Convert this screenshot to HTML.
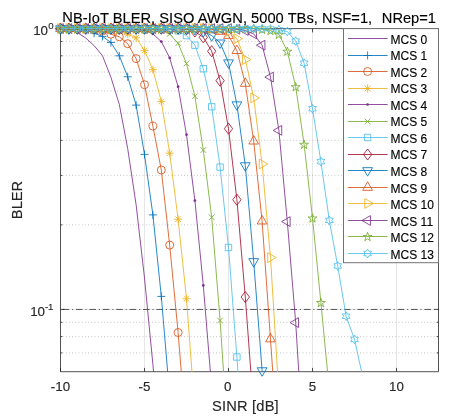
<!DOCTYPE html>
<html><head><meta charset="utf-8"><title>NB-IoT BLER</title>
<style>
html,body{margin:0;padding:0;background:#fff}
svg{display:block}
text{font-family:"Liberation Sans",sans-serif;fill:#262626;stroke:#262626;stroke-width:0.14px}
.t{font-size:13.33px}
.e{font-size:9.7px}
.l{font-size:14.67px}
.g{font-size:12px;fill:#000;stroke:#000}
.s{fill:none;stroke-width:0.85;stroke-linejoin:miter}
</style></head><body>
<svg width="449" height="417" viewBox="0 0 449 417">
<rect width="449" height="417" fill="#fff"/>
<path d="M144.5 28.6V371.7M228.5 28.6V371.7M312.5 28.6V371.7M396.5 28.6V371.7M60.5 309.4H438.5" stroke="#dfdfdf" stroke-width="0.8" fill="none"/>
<path d="M60.5 41.45H438.5M60.5 55.81H438.5M60.5 72.1H438.5M60.5 90.9H438.5M60.5 113.13H438.5M60.5 140.34H438.5M60.5 175.43H438.5M60.5 224.87H438.5M60.5 322.25H438.5M60.5 336.62H438.5M60.5 352.9H438.5" stroke="#b2b2b2" stroke-width="0.8" stroke-dasharray="0.9 2.3" stroke-dashoffset="1.2" fill="none"/>
<path d="M60.5 28.6H438.5V371.7H60.5ZM60.5 371.7v-3.8M60.5 28.6v3.8M144.5 371.7v-3.8M144.5 28.6v3.8M228.5 371.7v-3.8M228.5 28.6v3.8M312.5 371.7v-3.8M312.5 28.6v3.8M396.5 371.7v-3.8M396.5 28.6v3.8M60.5 28.6h3.8M438.5 28.6h-3.8M60.5 309.4h3.8M438.5 309.4h-3.8M60.5 41.45h1.9M438.5 41.45h-1.9M60.5 55.81h1.9M438.5 55.81h-1.9M60.5 72.1h1.9M438.5 72.1h-1.9M60.5 90.9h1.9M438.5 90.9h-1.9M60.5 113.13h1.9M438.5 113.13h-1.9M60.5 140.34h1.9M438.5 140.34h-1.9M60.5 175.43h1.9M438.5 175.43h-1.9M60.5 224.87h1.9M438.5 224.87h-1.9M60.5 322.25h1.9M438.5 322.25h-1.9M60.5 336.62h1.9M438.5 336.62h-1.9M60.5 352.9h1.9M438.5 352.9h-1.9" stroke="#262626" stroke-width="0.8" fill="none"/>
<defs><clipPath id="c"><rect x="60.0" y="28.1" width="379.0" height="343.9"/></clipPath></defs>
<path d="M60.5 309.45H438.5" stroke="#1c1c1c" stroke-width="0.72" stroke-dasharray="6.6 2.9 1.1 2.8" stroke-dashoffset="11.3" fill="none"/>
<path class="s" clip-path="url(#c)" d="M60.5 28.7L68.9 29.5L77.3 32.6L85.7 38L94.1 45.6L102.5 55.8L110.9 77.2L119.3 104.4L127.7 148.5L136.1 204.6L144.5 278L152.9 364.5L161.3 460" stroke="#7E2F8E"/>
<path class="s" clip-path="url(#c)" d="M60.5 28.6L68.9 28.6L77.3 29.2L85.7 30.3L94.1 33.2L102.5 36.4L110.9 42.5L119.3 55.8L127.7 76.8L136.1 105.1L144.5 154.4L152.9 214.9L161.3 296.4L169.7 396" stroke="#0072BD"/>
<path class="s" stroke="#0072BD" d="M56.5 28.6H64.5M60.5 24.6V32.6M64.9 28.6H72.9M68.9 24.6V32.6M73.3 29.2H81.3M77.3 25.2V33.2M81.7 30.3H89.7M85.7 26.3V34.3M90.1 33.2H98.1M94.1 29.2V37.2M98.5 36.4H106.5M102.5 32.4V40.4M106.9 42.5H114.9M110.9 38.5V46.5M115.3 55.8H123.3M119.3 51.8V59.8M123.7 76.8H131.7M127.7 72.8V80.8M132.1 105.1H140.1M136.1 101.1V109.1M140.5 154.4H148.5M144.5 150.4V158.4M148.9 214.9H156.9M152.9 210.9V218.9M157.3 296.4H165.3M161.3 292.4V300.4"/>
<path class="s" clip-path="url(#c)" d="M60.5 28.6L68.9 28.6L77.3 28.6L85.7 28.6L94.1 29.3L102.5 31L110.9 34.2L119.3 36.8L127.7 43.7L136.1 58.6L144.5 84.7L152.9 126.1L161.3 170L169.7 245.1L178.1 332.5L186.5 437" stroke="#D95319"/>
<g class="s" stroke="#D95319"><circle cx="60.5" cy="28.6" r="4"/><circle cx="68.9" cy="28.6" r="4"/><circle cx="77.3" cy="28.6" r="4"/><circle cx="85.7" cy="28.6" r="4"/><circle cx="94.1" cy="29.3" r="4"/><circle cx="102.5" cy="31" r="4"/><circle cx="110.9" cy="34.2" r="4"/><circle cx="119.3" cy="36.8" r="4"/><circle cx="127.7" cy="43.7" r="4"/><circle cx="136.1" cy="58.6" r="4"/><circle cx="144.5" cy="84.7" r="4"/><circle cx="152.9" cy="126.1" r="4"/><circle cx="161.3" cy="170" r="4"/><circle cx="169.7" cy="245.1" r="4"/><circle cx="178.1" cy="332.5" r="4"/></g>
<path class="s" clip-path="url(#c)" d="M60.5 28.6L68.9 28.6L77.3 28.6L85.7 28.6L94.1 28.6L102.5 28.6L110.9 29.3L119.3 31L127.7 34.2L136.1 37.8L144.5 50.6L152.9 69.6L161.3 101.5L169.7 153.2L178.1 219.2L186.5 298.8L194.9 411" stroke="#EDB120"/>
<path class="s" stroke="#EDB120" d="M56.5 28.6H64.5M60.5 24.6V32.6M57.67 25.77L63.33 31.43M57.67 31.43L63.33 25.77M64.9 28.6H72.9M68.9 24.6V32.6M66.07 25.77L71.73 31.43M66.07 31.43L71.73 25.77M73.3 28.6H81.3M77.3 24.6V32.6M74.47 25.77L80.13 31.43M74.47 31.43L80.13 25.77M81.7 28.6H89.7M85.7 24.6V32.6M82.87 25.77L88.53 31.43M82.87 31.43L88.53 25.77M90.1 28.6H98.1M94.1 24.6V32.6M91.27 25.77L96.93 31.43M91.27 31.43L96.93 25.77M98.5 28.6H106.5M102.5 24.6V32.6M99.67 25.77L105.33 31.43M99.67 31.43L105.33 25.77M106.9 29.3H114.9M110.9 25.3V33.3M108.07 26.47L113.73 32.13M108.07 32.13L113.73 26.47M115.3 31H123.3M119.3 27V35M116.47 28.17L122.13 33.83M116.47 33.83L122.13 28.17M123.7 34.2H131.7M127.7 30.2V38.2M124.87 31.37L130.53 37.03M124.87 37.03L130.53 31.37M132.1 37.8H140.1M136.1 33.8V41.8M133.27 34.97L138.93 40.63M133.27 40.63L138.93 34.97M140.5 50.6H148.5M144.5 46.6V54.6M141.67 47.77L147.33 53.43M141.67 53.43L147.33 47.77M148.9 69.6H156.9M152.9 65.6V73.6M150.07 66.77L155.73 72.43M150.07 72.43L155.73 66.77M157.3 101.5H165.3M161.3 97.5V105.5M158.47 98.67L164.13 104.33M158.47 104.33L164.13 98.67M165.7 153.2H173.7M169.7 149.2V157.2M166.87 150.37L172.53 156.03M166.87 156.03L172.53 150.37M174.1 219.2H182.1M178.1 215.2V223.2M175.27 216.37L180.93 222.03M175.27 222.03L180.93 216.37M182.5 298.8H190.5M186.5 294.8V302.8M183.67 295.97L189.33 301.63M183.67 301.63L189.33 295.97"/>
<path class="s" clip-path="url(#c)" d="M60.5 28.6L68.9 28.6L77.3 28.6L85.7 28.6L94.1 28.6L102.5 28.6L110.9 28.6L119.3 28.6L127.7 28.6L136.1 29.3L144.5 30.5L152.9 33.9L161.3 41.6L169.7 57.9L178.1 86.7L186.5 134.7L194.9 200.6L203.3 285.4L211.7 388" stroke="#7E2F8E"/>
<g fill="#7E2F8E"><circle cx="60.5" cy="28.6" r="1.35"/><circle cx="68.9" cy="28.6" r="1.35"/><circle cx="77.3" cy="28.6" r="1.35"/><circle cx="85.7" cy="28.6" r="1.35"/><circle cx="94.1" cy="28.6" r="1.35"/><circle cx="102.5" cy="28.6" r="1.35"/><circle cx="110.9" cy="28.6" r="1.35"/><circle cx="119.3" cy="28.6" r="1.35"/><circle cx="127.7" cy="28.6" r="1.35"/><circle cx="136.1" cy="29.3" r="1.35"/><circle cx="144.5" cy="30.5" r="1.35"/><circle cx="152.9" cy="33.9" r="1.35"/><circle cx="161.3" cy="41.6" r="1.35"/><circle cx="169.7" cy="57.9" r="1.35"/><circle cx="178.1" cy="86.7" r="1.35"/><circle cx="186.5" cy="134.7" r="1.35"/><circle cx="194.9" cy="200.6" r="1.35"/><circle cx="203.3" cy="285.4" r="1.35"/></g>
<path class="s" clip-path="url(#c)" d="M60.5 28.6L68.9 28.6L77.3 28.6L85.7 28.6L94.1 28.6L102.5 28.6L110.9 28.6L119.3 28.6L127.7 28.6L136.1 28.6L144.5 28.6L152.9 29.3L161.3 30.5L169.7 33.9L178.1 43.3L186.5 63.6L194.9 96.3L203.3 150L211.7 217.3L220.1 320.5L228.5 446" stroke="#77AC30"/>
<path class="s" stroke="#77AC30" d="M57.67 25.77L63.33 31.43M57.67 31.43L63.33 25.77M66.07 25.77L71.73 31.43M66.07 31.43L71.73 25.77M74.47 25.77L80.13 31.43M74.47 31.43L80.13 25.77M82.87 25.77L88.53 31.43M82.87 31.43L88.53 25.77M91.27 25.77L96.93 31.43M91.27 31.43L96.93 25.77M99.67 25.77L105.33 31.43M99.67 31.43L105.33 25.77M108.07 25.77L113.73 31.43M108.07 31.43L113.73 25.77M116.47 25.77L122.13 31.43M116.47 31.43L122.13 25.77M124.87 25.77L130.53 31.43M124.87 31.43L130.53 25.77M133.27 25.77L138.93 31.43M133.27 31.43L138.93 25.77M141.67 25.77L147.33 31.43M141.67 31.43L147.33 25.77M150.07 26.47L155.73 32.13M150.07 32.13L155.73 26.47M158.47 27.67L164.13 33.33M158.47 33.33L164.13 27.67M166.87 31.07L172.53 36.73M166.87 36.73L172.53 31.07M175.27 40.47L180.93 46.13M175.27 46.13L180.93 40.47M183.67 60.77L189.33 66.43M183.67 66.43L189.33 60.77M192.07 93.47L197.73 99.13M192.07 99.13L197.73 93.47M200.47 147.17L206.13 152.83M200.47 152.83L206.13 147.17M208.87 214.47L214.53 220.13M208.87 220.13L214.53 214.47M217.27 317.67L222.93 323.33M217.27 323.33L222.93 317.67"/>
<path class="s" clip-path="url(#c)" d="M60.5 28.6L68.9 28.6L77.3 28.6L85.7 28.6L94.1 28.6L102.5 28.6L110.9 28.6L119.3 28.6L127.7 28.6L136.1 28.6L144.5 28.6L152.9 28.6L161.3 28.6L169.7 29.3L178.1 30.8L186.5 35.6L194.9 45.2L203.3 68.7L211.7 106.8L220.1 167.1L228.5 247.5L236.9 357L245.3 475" stroke="#4DBEEE"/>
<path class="s" stroke="#4DBEEE" d="M57.3 25.4H63.7V31.8H57.3ZM65.7 25.4H72.1V31.8H65.7ZM74.1 25.4H80.5V31.8H74.1ZM82.5 25.4H88.9V31.8H82.5ZM90.9 25.4H97.3V31.8H90.9ZM99.3 25.4H105.7V31.8H99.3ZM107.7 25.4H114.1V31.8H107.7ZM116.1 25.4H122.5V31.8H116.1ZM124.5 25.4H130.9V31.8H124.5ZM132.9 25.4H139.3V31.8H132.9ZM141.3 25.4H147.7V31.8H141.3ZM149.7 25.4H156.1V31.8H149.7ZM158.1 25.4H164.5V31.8H158.1ZM166.5 26.1H172.9V32.5H166.5ZM174.9 27.6H181.3V34H174.9ZM183.3 32.4H189.7V38.8H183.3ZM191.7 42H198.1V48.4H191.7ZM200.1 65.5H206.5V71.9H200.1ZM208.5 103.6H214.9V110H208.5ZM216.9 163.9H223.3V170.3H216.9ZM225.3 244.3H231.7V250.7H225.3ZM233.7 353.8H240.1V360.2H233.7Z"/>
<path class="s" clip-path="url(#c)" d="M60.5 28.6L68.9 28.6L77.3 28.6L85.7 28.6L94.1 28.6L102.5 28.6L110.9 28.6L119.3 28.6L127.7 28.6L136.1 28.6L144.5 28.6L152.9 28.6L161.3 28.6L169.7 28.6L178.1 28.6L186.5 29.3L194.9 31.5L203.3 37.3L211.7 51.2L220.1 80.7L228.5 128.7L236.9 199.7L245.3 297L253.7 410" stroke="#A2142F"/>
<path class="s" stroke="#A2142F" d="M60.5 23.05L64.65 28.6L60.5 34.15L56.35 28.6ZM68.9 23.05L73.05 28.6L68.9 34.15L64.75 28.6ZM77.3 23.05L81.45 28.6L77.3 34.15L73.15 28.6ZM85.7 23.05L89.85 28.6L85.7 34.15L81.55 28.6ZM94.1 23.05L98.25 28.6L94.1 34.15L89.95 28.6ZM102.5 23.05L106.65 28.6L102.5 34.15L98.35 28.6ZM110.9 23.05L115.05 28.6L110.9 34.15L106.75 28.6ZM119.3 23.05L123.45 28.6L119.3 34.15L115.15 28.6ZM127.7 23.05L131.85 28.6L127.7 34.15L123.55 28.6ZM136.1 23.05L140.25 28.6L136.1 34.15L131.95 28.6ZM144.5 23.05L148.65 28.6L144.5 34.15L140.35 28.6ZM152.9 23.05L157.05 28.6L152.9 34.15L148.75 28.6ZM161.3 23.05L165.45 28.6L161.3 34.15L157.15 28.6ZM169.7 23.05L173.85 28.6L169.7 34.15L165.55 28.6ZM178.1 23.05L182.25 28.6L178.1 34.15L173.95 28.6ZM186.5 23.75L190.65 29.3L186.5 34.85L182.35 29.3ZM194.9 25.95L199.05 31.5L194.9 37.05L190.75 31.5ZM203.3 31.75L207.45 37.3L203.3 42.85L199.15 37.3ZM211.7 45.65L215.85 51.2L211.7 56.75L207.55 51.2ZM220.1 75.15L224.25 80.7L220.1 86.25L215.95 80.7ZM228.5 123.15L232.65 128.7L228.5 134.25L224.35 128.7ZM236.9 194.15L241.05 199.7L236.9 205.25L232.75 199.7ZM245.3 291.45L249.45 297L245.3 302.55L241.15 297Z"/>
<path class="s" clip-path="url(#c)" d="M60.5 28.6L68.9 28.6L77.3 28.6L85.7 28.6L94.1 28.6L102.5 28.6L110.9 28.6L119.3 28.6L127.7 28.6L136.1 28.6L144.5 28.6L152.9 28.6L161.3 28.6L169.7 28.6L178.1 28.6L186.5 28.6L194.9 29.3L203.3 31.5L211.7 35.6L220.1 42.8L228.5 62.7L236.9 104.7L245.3 165.6L253.7 261.5L262.1 370.6L270.5 490" stroke="#0072BD"/>
<path class="s" stroke="#0072BD" d="M55.6 25.77H65.4L60.5 34.26ZM64 25.77H73.8L68.9 34.26ZM72.4 25.77H82.2L77.3 34.26ZM80.8 25.77H90.6L85.7 34.26ZM89.2 25.77H99L94.1 34.26ZM97.6 25.77H107.4L102.5 34.26ZM106 25.77H115.8L110.9 34.26ZM114.4 25.77H124.2L119.3 34.26ZM122.8 25.77H132.6L127.7 34.26ZM131.2 25.77H141L136.1 34.26ZM139.6 25.77H149.4L144.5 34.26ZM148 25.77H157.8L152.9 34.26ZM156.4 25.77H166.2L161.3 34.26ZM164.8 25.77H174.6L169.7 34.26ZM173.2 25.77H183L178.1 34.26ZM181.6 25.77H191.4L186.5 34.26ZM190 26.47H199.8L194.9 34.96ZM198.4 28.67H208.2L203.3 37.16ZM206.8 32.77H216.6L211.7 41.26ZM215.2 39.97H225L220.1 48.46ZM223.6 59.87H233.4L228.5 68.36ZM232 101.87H241.8L236.9 110.36ZM240.4 162.77H250.2L245.3 171.26ZM248.8 258.67H258.6L253.7 267.16ZM257.2 367.77H267L262.1 376.26Z"/>
<path class="s" clip-path="url(#c)" d="M60.5 28.6L68.9 28.6L77.3 28.6L85.7 28.6L94.1 28.6L102.5 28.6L110.9 28.6L119.3 28.6L127.7 28.6L136.1 28.6L144.5 28.6L152.9 28.6L161.3 28.6L169.7 28.6L178.1 28.6L186.5 28.6L194.9 28.6L203.3 28.6L211.7 29.3L220.1 31.5L228.5 35.6L236.9 50.7L245.3 83.5L253.7 141.2L262.1 221.1L270.5 339L278.9 462" stroke="#D95319"/>
<path class="s" stroke="#D95319" d="M55.6 31.43H65.4L60.5 22.94ZM64 31.43H73.8L68.9 22.94ZM72.4 31.43H82.2L77.3 22.94ZM80.8 31.43H90.6L85.7 22.94ZM89.2 31.43H99L94.1 22.94ZM97.6 31.43H107.4L102.5 22.94ZM106 31.43H115.8L110.9 22.94ZM114.4 31.43H124.2L119.3 22.94ZM122.8 31.43H132.6L127.7 22.94ZM131.2 31.43H141L136.1 22.94ZM139.6 31.43H149.4L144.5 22.94ZM148 31.43H157.8L152.9 22.94ZM156.4 31.43H166.2L161.3 22.94ZM164.8 31.43H174.6L169.7 22.94ZM173.2 31.43H183L178.1 22.94ZM181.6 31.43H191.4L186.5 22.94ZM190 31.43H199.8L194.9 22.94ZM198.4 31.43H208.2L203.3 22.94ZM206.8 32.13H216.6L211.7 23.64ZM215.2 34.33H225L220.1 25.84ZM223.6 38.43H233.4L228.5 29.94ZM232 53.53H241.8L236.9 45.04ZM240.4 86.33H250.2L245.3 77.84ZM248.8 144.03H258.6L253.7 135.54ZM257.2 223.93H267L262.1 215.44ZM265.6 341.83H275.4L270.5 333.34Z"/>
<path class="s" clip-path="url(#c)" d="M60.5 28.6L68.9 28.6L77.3 28.6L85.7 28.6L94.1 28.6L102.5 28.6L110.9 28.6L119.3 28.6L127.7 28.6L136.1 28.6L144.5 28.6L152.9 28.6L161.3 28.6L169.7 28.6L178.1 28.6L186.5 28.6L194.9 28.6L203.3 28.6L211.7 28.6L220.1 29.3L228.5 31.5L236.9 38.7L245.3 59.6L253.7 97.9L262.1 164L270.5 257.6L278.9 394" stroke="#EDB120"/>
<path class="s" stroke="#EDB120" d="M57.67 23.7V33.5L66.16 28.6ZM66.07 23.7V33.5L74.56 28.6ZM74.47 23.7V33.5L82.96 28.6ZM82.87 23.7V33.5L91.36 28.6ZM91.27 23.7V33.5L99.76 28.6ZM99.67 23.7V33.5L108.16 28.6ZM108.07 23.7V33.5L116.56 28.6ZM116.47 23.7V33.5L124.96 28.6ZM124.87 23.7V33.5L133.36 28.6ZM133.27 23.7V33.5L141.76 28.6ZM141.67 23.7V33.5L150.16 28.6ZM150.07 23.7V33.5L158.56 28.6ZM158.47 23.7V33.5L166.96 28.6ZM166.87 23.7V33.5L175.36 28.6ZM175.27 23.7V33.5L183.76 28.6ZM183.67 23.7V33.5L192.16 28.6ZM192.07 23.7V33.5L200.56 28.6ZM200.47 23.7V33.5L208.96 28.6ZM208.87 23.7V33.5L217.36 28.6ZM217.27 24.4V34.2L225.76 29.3ZM225.67 26.6V36.4L234.16 31.5ZM234.07 33.8V43.6L242.56 38.7ZM242.47 54.7V64.5L250.96 59.6ZM250.87 93V102.8L259.36 97.9ZM259.27 159.1V168.9L267.76 164ZM267.67 252.7V262.5L276.16 257.6Z"/>
<path class="s" clip-path="url(#c)" d="M60.5 28.6L68.9 28.6L77.3 28.6L85.7 28.6L94.1 28.6L102.5 28.6L110.9 28.6L119.3 28.6L127.7 28.6L136.1 28.6L144.5 28.6L152.9 28.6L161.3 28.6L169.7 28.6L178.1 28.6L186.5 28.6L194.9 28.6L203.3 28.6L211.7 28.6L220.1 28.6L228.5 28.6L236.9 29.3L245.3 30.5L253.7 33.9L262.1 45.2L270.5 77.1L278.9 130.4L287.3 221.6L295.7 322.6L304.1 457" stroke="#7E2F8E"/>
<path class="s" stroke="#7E2F8E" d="M63.33 23.7V33.5L54.84 28.6ZM71.73 23.7V33.5L63.24 28.6ZM80.13 23.7V33.5L71.64 28.6ZM88.53 23.7V33.5L80.04 28.6ZM96.93 23.7V33.5L88.44 28.6ZM105.33 23.7V33.5L96.84 28.6ZM113.73 23.7V33.5L105.24 28.6ZM122.13 23.7V33.5L113.64 28.6ZM130.53 23.7V33.5L122.04 28.6ZM138.93 23.7V33.5L130.44 28.6ZM147.33 23.7V33.5L138.84 28.6ZM155.73 23.7V33.5L147.24 28.6ZM164.13 23.7V33.5L155.64 28.6ZM172.53 23.7V33.5L164.04 28.6ZM180.93 23.7V33.5L172.44 28.6ZM189.33 23.7V33.5L180.84 28.6ZM197.73 23.7V33.5L189.24 28.6ZM206.13 23.7V33.5L197.64 28.6ZM214.53 23.7V33.5L206.04 28.6ZM222.93 23.7V33.5L214.44 28.6ZM231.33 23.7V33.5L222.84 28.6ZM239.73 24.4V34.2L231.24 29.3ZM248.13 25.6V35.4L239.64 30.5ZM256.53 29V38.8L248.04 33.9ZM264.93 40.3V50.1L256.44 45.2ZM273.33 72.2V82L264.84 77.1ZM281.73 125.5V135.3L273.24 130.4ZM290.13 216.7V226.5L281.64 221.6ZM298.53 317.7V327.5L290.04 322.6Z"/>
<path class="s" clip-path="url(#c)" d="M60.5 28.6L68.9 28.6L77.3 28.6L85.7 28.6L94.1 28.6L102.5 28.6L110.9 28.6L119.3 28.6L127.7 28.6L136.1 28.6L144.5 28.6L152.9 28.6L161.3 28.6L169.7 28.6L178.1 28.6L186.5 28.6L194.9 28.6L203.3 28.6L211.7 28.6L220.1 28.6L228.5 28.6L236.9 28.6L245.3 28.6L253.7 28.6L262.1 29.3L270.5 30.5L278.9 34.4L287.3 51.2L295.7 86.7L304.1 144.3L312.5 218L320.9 302.5L329.3 390" stroke="#77AC30"/>
<path class="s" stroke="#77AC30" d="M60.5 24.35L61.56 27.6L64.97 27.6L62.21 29.6L63.26 32.85L60.5 30.85L57.74 32.85L58.79 29.6L56.03 27.6L59.44 27.6ZM68.9 24.35L69.96 27.6L73.37 27.6L70.61 29.6L71.66 32.85L68.9 30.85L66.14 32.85L67.19 29.6L64.43 27.6L67.84 27.6ZM77.3 24.35L78.36 27.6L81.77 27.6L79.01 29.6L80.06 32.85L77.3 30.85L74.54 32.85L75.59 29.6L72.83 27.6L76.24 27.6ZM85.7 24.35L86.76 27.6L90.17 27.6L87.41 29.6L88.46 32.85L85.7 30.85L82.94 32.85L83.99 29.6L81.23 27.6L84.64 27.6ZM94.1 24.35L95.16 27.6L98.57 27.6L95.81 29.6L96.86 32.85L94.1 30.85L91.34 32.85L92.39 29.6L89.63 27.6L93.04 27.6ZM102.5 24.35L103.56 27.6L106.97 27.6L104.21 29.6L105.26 32.85L102.5 30.85L99.74 32.85L100.79 29.6L98.03 27.6L101.44 27.6ZM110.9 24.35L111.96 27.6L115.37 27.6L112.61 29.6L113.66 32.85L110.9 30.85L108.14 32.85L109.19 29.6L106.43 27.6L109.84 27.6ZM119.3 24.35L120.36 27.6L123.77 27.6L121.01 29.6L122.06 32.85L119.3 30.85L116.54 32.85L117.59 29.6L114.83 27.6L118.24 27.6ZM127.7 24.35L128.76 27.6L132.17 27.6L129.41 29.6L130.46 32.85L127.7 30.85L124.94 32.85L125.99 29.6L123.23 27.6L126.64 27.6ZM136.1 24.35L137.16 27.6L140.57 27.6L137.81 29.6L138.86 32.85L136.1 30.85L133.34 32.85L134.39 29.6L131.63 27.6L135.04 27.6ZM144.5 24.35L145.56 27.6L148.97 27.6L146.21 29.6L147.26 32.85L144.5 30.85L141.74 32.85L142.79 29.6L140.03 27.6L143.44 27.6ZM152.9 24.35L153.96 27.6L157.37 27.6L154.61 29.6L155.66 32.85L152.9 30.85L150.14 32.85L151.19 29.6L148.43 27.6L151.84 27.6ZM161.3 24.35L162.36 27.6L165.77 27.6L163.01 29.6L164.06 32.85L161.3 30.85L158.54 32.85L159.59 29.6L156.83 27.6L160.24 27.6ZM169.7 24.35L170.76 27.6L174.17 27.6L171.41 29.6L172.46 32.85L169.7 30.85L166.94 32.85L167.99 29.6L165.23 27.6L168.64 27.6ZM178.1 24.35L179.16 27.6L182.57 27.6L179.81 29.6L180.86 32.85L178.1 30.85L175.34 32.85L176.39 29.6L173.63 27.6L177.04 27.6ZM186.5 24.35L187.56 27.6L190.97 27.6L188.21 29.6L189.26 32.85L186.5 30.85L183.74 32.85L184.79 29.6L182.03 27.6L185.44 27.6ZM194.9 24.35L195.96 27.6L199.37 27.6L196.61 29.6L197.66 32.85L194.9 30.85L192.14 32.85L193.19 29.6L190.43 27.6L193.84 27.6ZM203.3 24.35L204.36 27.6L207.77 27.6L205.01 29.6L206.06 32.85L203.3 30.85L200.54 32.85L201.59 29.6L198.83 27.6L202.24 27.6ZM211.7 24.35L212.76 27.6L216.17 27.6L213.41 29.6L214.46 32.85L211.7 30.85L208.94 32.85L209.99 29.6L207.23 27.6L210.64 27.6ZM220.1 24.35L221.16 27.6L224.57 27.6L221.81 29.6L222.86 32.85L220.1 30.85L217.34 32.85L218.39 29.6L215.63 27.6L219.04 27.6ZM228.5 24.35L229.56 27.6L232.97 27.6L230.21 29.6L231.26 32.85L228.5 30.85L225.74 32.85L226.79 29.6L224.03 27.6L227.44 27.6ZM236.9 24.35L237.96 27.6L241.37 27.6L238.61 29.6L239.66 32.85L236.9 30.85L234.14 32.85L235.19 29.6L232.43 27.6L235.84 27.6ZM245.3 24.35L246.36 27.6L249.77 27.6L247.01 29.6L248.06 32.85L245.3 30.85L242.54 32.85L243.59 29.6L240.83 27.6L244.24 27.6ZM253.7 24.35L254.76 27.6L258.17 27.6L255.41 29.6L256.46 32.85L253.7 30.85L250.94 32.85L251.99 29.6L249.23 27.6L252.64 27.6ZM262.1 25.05L263.16 28.3L266.57 28.3L263.81 30.3L264.86 33.55L262.1 31.55L259.34 33.55L260.39 30.3L257.63 28.3L261.04 28.3ZM270.5 26.25L271.56 29.5L274.97 29.5L272.21 31.5L273.26 34.75L270.5 32.75L267.74 34.75L268.79 31.5L266.03 29.5L269.44 29.5ZM278.9 30.15L279.96 33.4L283.37 33.4L280.61 35.4L281.66 38.65L278.9 36.65L276.14 38.65L277.19 35.4L274.43 33.4L277.84 33.4ZM287.3 46.95L288.36 50.2L291.77 50.2L289.01 52.2L290.06 55.45L287.3 53.45L284.54 55.45L285.59 52.2L282.83 50.2L286.24 50.2ZM295.7 82.45L296.76 85.7L300.17 85.7L297.41 87.7L298.46 90.95L295.7 88.95L292.94 90.95L293.99 87.7L291.23 85.7L294.64 85.7ZM304.1 140.05L305.16 143.3L308.57 143.3L305.81 145.3L306.86 148.55L304.1 146.55L301.34 148.55L302.39 145.3L299.63 143.3L303.04 143.3ZM312.5 213.75L313.56 217L316.97 217L314.21 219L315.26 222.25L312.5 220.25L309.74 222.25L310.79 219L308.03 217L311.44 217ZM320.9 298.25L321.96 301.5L325.37 301.5L322.61 303.5L323.66 306.75L320.9 304.75L318.14 306.75L319.19 303.5L316.43 301.5L319.84 301.5Z"/>
<path class="s" clip-path="url(#c)" d="M60.5 28.6L68.9 28.6L77.3 28.6L85.7 28.6L94.1 28.6L102.5 28.6L110.9 28.6L119.3 28.6L127.7 28.6L136.1 28.6L144.5 28.6L152.9 28.6L161.3 28.6L169.7 28.6L178.1 28.6L186.5 28.6L194.9 28.6L203.3 28.6L211.7 28.6L220.1 28.6L228.5 28.6L236.9 28.6L245.3 28.6L253.7 28.6L262.1 28.6L270.5 29L278.9 29.8L287.3 31.5L295.7 41.1L304.1 63.2L312.5 108.7L320.9 161.6L329.3 220.4L337.7 265.9L346.1 316.2L354.5 339.4L362.9 377.7" stroke="#4DBEEE"/>
<path class="s" stroke="#4DBEEE" d="M60.5 24.2L61.77 26.4L64.31 26.4L63.04 28.6L64.31 30.8L61.77 30.8L60.5 33L59.23 30.8L56.69 30.8L57.96 28.6L56.69 26.4L59.23 26.4ZM68.9 24.2L70.17 26.4L72.71 26.4L71.44 28.6L72.71 30.8L70.17 30.8L68.9 33L67.63 30.8L65.09 30.8L66.36 28.6L65.09 26.4L67.63 26.4ZM77.3 24.2L78.57 26.4L81.11 26.4L79.84 28.6L81.11 30.8L78.57 30.8L77.3 33L76.03 30.8L73.49 30.8L74.76 28.6L73.49 26.4L76.03 26.4ZM85.7 24.2L86.97 26.4L89.51 26.4L88.24 28.6L89.51 30.8L86.97 30.8L85.7 33L84.43 30.8L81.89 30.8L83.16 28.6L81.89 26.4L84.43 26.4ZM94.1 24.2L95.37 26.4L97.91 26.4L96.64 28.6L97.91 30.8L95.37 30.8L94.1 33L92.83 30.8L90.29 30.8L91.56 28.6L90.29 26.4L92.83 26.4ZM102.5 24.2L103.77 26.4L106.31 26.4L105.04 28.6L106.31 30.8L103.77 30.8L102.5 33L101.23 30.8L98.69 30.8L99.96 28.6L98.69 26.4L101.23 26.4ZM110.9 24.2L112.17 26.4L114.71 26.4L113.44 28.6L114.71 30.8L112.17 30.8L110.9 33L109.63 30.8L107.09 30.8L108.36 28.6L107.09 26.4L109.63 26.4ZM119.3 24.2L120.57 26.4L123.11 26.4L121.84 28.6L123.11 30.8L120.57 30.8L119.3 33L118.03 30.8L115.49 30.8L116.76 28.6L115.49 26.4L118.03 26.4ZM127.7 24.2L128.97 26.4L131.51 26.4L130.24 28.6L131.51 30.8L128.97 30.8L127.7 33L126.43 30.8L123.89 30.8L125.16 28.6L123.89 26.4L126.43 26.4ZM136.1 24.2L137.37 26.4L139.91 26.4L138.64 28.6L139.91 30.8L137.37 30.8L136.1 33L134.83 30.8L132.29 30.8L133.56 28.6L132.29 26.4L134.83 26.4ZM144.5 24.2L145.77 26.4L148.31 26.4L147.04 28.6L148.31 30.8L145.77 30.8L144.5 33L143.23 30.8L140.69 30.8L141.96 28.6L140.69 26.4L143.23 26.4ZM152.9 24.2L154.17 26.4L156.71 26.4L155.44 28.6L156.71 30.8L154.17 30.8L152.9 33L151.63 30.8L149.09 30.8L150.36 28.6L149.09 26.4L151.63 26.4ZM161.3 24.2L162.57 26.4L165.11 26.4L163.84 28.6L165.11 30.8L162.57 30.8L161.3 33L160.03 30.8L157.49 30.8L158.76 28.6L157.49 26.4L160.03 26.4ZM169.7 24.2L170.97 26.4L173.51 26.4L172.24 28.6L173.51 30.8L170.97 30.8L169.7 33L168.43 30.8L165.89 30.8L167.16 28.6L165.89 26.4L168.43 26.4ZM178.1 24.2L179.37 26.4L181.91 26.4L180.64 28.6L181.91 30.8L179.37 30.8L178.1 33L176.83 30.8L174.29 30.8L175.56 28.6L174.29 26.4L176.83 26.4ZM186.5 24.2L187.77 26.4L190.31 26.4L189.04 28.6L190.31 30.8L187.77 30.8L186.5 33L185.23 30.8L182.69 30.8L183.96 28.6L182.69 26.4L185.23 26.4ZM194.9 24.2L196.17 26.4L198.71 26.4L197.44 28.6L198.71 30.8L196.17 30.8L194.9 33L193.63 30.8L191.09 30.8L192.36 28.6L191.09 26.4L193.63 26.4ZM203.3 24.2L204.57 26.4L207.11 26.4L205.84 28.6L207.11 30.8L204.57 30.8L203.3 33L202.03 30.8L199.49 30.8L200.76 28.6L199.49 26.4L202.03 26.4ZM211.7 24.2L212.97 26.4L215.51 26.4L214.24 28.6L215.51 30.8L212.97 30.8L211.7 33L210.43 30.8L207.89 30.8L209.16 28.6L207.89 26.4L210.43 26.4ZM220.1 24.2L221.37 26.4L223.91 26.4L222.64 28.6L223.91 30.8L221.37 30.8L220.1 33L218.83 30.8L216.29 30.8L217.56 28.6L216.29 26.4L218.83 26.4ZM228.5 24.2L229.77 26.4L232.31 26.4L231.04 28.6L232.31 30.8L229.77 30.8L228.5 33L227.23 30.8L224.69 30.8L225.96 28.6L224.69 26.4L227.23 26.4ZM236.9 24.2L238.17 26.4L240.71 26.4L239.44 28.6L240.71 30.8L238.17 30.8L236.9 33L235.63 30.8L233.09 30.8L234.36 28.6L233.09 26.4L235.63 26.4ZM245.3 24.2L246.57 26.4L249.11 26.4L247.84 28.6L249.11 30.8L246.57 30.8L245.3 33L244.03 30.8L241.49 30.8L242.76 28.6L241.49 26.4L244.03 26.4ZM253.7 24.2L254.97 26.4L257.51 26.4L256.24 28.6L257.51 30.8L254.97 30.8L253.7 33L252.43 30.8L249.89 30.8L251.16 28.6L249.89 26.4L252.43 26.4ZM262.1 24.2L263.37 26.4L265.91 26.4L264.64 28.6L265.91 30.8L263.37 30.8L262.1 33L260.83 30.8L258.29 30.8L259.56 28.6L258.29 26.4L260.83 26.4ZM270.5 24.6L271.77 26.8L274.31 26.8L273.04 29L274.31 31.2L271.77 31.2L270.5 33.4L269.23 31.2L266.69 31.2L267.96 29L266.69 26.8L269.23 26.8ZM278.9 25.4L280.17 27.6L282.71 27.6L281.44 29.8L282.71 32L280.17 32L278.9 34.2L277.63 32L275.09 32L276.36 29.8L275.09 27.6L277.63 27.6ZM287.3 27.1L288.57 29.3L291.11 29.3L289.84 31.5L291.11 33.7L288.57 33.7L287.3 35.9L286.03 33.7L283.49 33.7L284.76 31.5L283.49 29.3L286.03 29.3ZM295.7 36.7L296.97 38.9L299.51 38.9L298.24 41.1L299.51 43.3L296.97 43.3L295.7 45.5L294.43 43.3L291.89 43.3L293.16 41.1L291.89 38.9L294.43 38.9ZM304.1 58.8L305.37 61L307.91 61L306.64 63.2L307.91 65.4L305.37 65.4L304.1 67.6L302.83 65.4L300.29 65.4L301.56 63.2L300.29 61L302.83 61ZM312.5 104.3L313.77 106.5L316.31 106.5L315.04 108.7L316.31 110.9L313.77 110.9L312.5 113.1L311.23 110.9L308.69 110.9L309.96 108.7L308.69 106.5L311.23 106.5ZM320.9 157.2L322.17 159.4L324.71 159.4L323.44 161.6L324.71 163.8L322.17 163.8L320.9 166L319.63 163.8L317.09 163.8L318.36 161.6L317.09 159.4L319.63 159.4ZM329.3 216L330.57 218.2L333.11 218.2L331.84 220.4L333.11 222.6L330.57 222.6L329.3 224.8L328.03 222.6L325.49 222.6L326.76 220.4L325.49 218.2L328.03 218.2ZM337.7 261.5L338.97 263.7L341.51 263.7L340.24 265.9L341.51 268.1L338.97 268.1L337.7 270.3L336.43 268.1L333.89 268.1L335.16 265.9L333.89 263.7L336.43 263.7ZM346.1 311.8L347.37 314L349.91 314L348.64 316.2L349.91 318.4L347.37 318.4L346.1 320.6L344.83 318.4L342.29 318.4L343.56 316.2L342.29 314L344.83 314ZM354.5 335L355.77 337.2L358.31 337.2L357.04 339.4L358.31 341.6L355.77 341.6L354.5 343.8L353.23 341.6L350.69 341.6L351.96 339.4L350.69 337.2L353.23 337.2Z"/>
<rect x="343.5" y="28.6" width="95.0" height="234.1" fill="#fff" stroke="#727272" stroke-width="1"/>
<path class="s" stroke="#7E2F8E" d="M347.9 38.5H387.6"/><text class="g" x="390.6" y="43.85" transform="rotate(0.02 390.6 43.85)">MCS 0</text>
<path class="s" stroke="#0072BD" d="M347.9 55.5H387.6"/><path class="s" stroke="#0072BD" d="M363.6 55.5H371.6M367.6 51.5V59.5"/><text class="g" x="390.6" y="60.37" transform="rotate(0.02 390.6 60.37)">MCS 1</text>
<path class="s" stroke="#D95319" d="M347.9 71.5H387.6"/><circle class="s" cx="367.6" cy="71.5" r="4" stroke="#D95319"/><text class="g" x="390.6" y="76.89" transform="rotate(0.02 390.6 76.89)">MCS 2</text>
<path class="s" stroke="#EDB120" d="M347.9 88.5H387.6"/><path class="s" stroke="#EDB120" d="M363.6 88.5H371.6M367.6 84.5V92.5M364.77 85.67L370.43 91.33M364.77 91.33L370.43 85.67"/><text class="g" x="390.6" y="93.41" transform="rotate(0.02 390.6 93.41)">MCS 3</text>
<path class="s" stroke="#7E2F8E" d="M347.9 104.5H387.6"/><circle cx="367.6" cy="104.5" r="1.35" fill="#7E2F8E"/><text class="g" x="390.6" y="109.93" transform="rotate(0.02 390.6 109.93)">MCS 4</text>
<path class="s" stroke="#77AC30" d="M347.9 121.5H387.6"/><path class="s" stroke="#77AC30" d="M364.77 118.67L370.43 124.33M364.77 124.33L370.43 118.67"/><text class="g" x="390.6" y="126.45" transform="rotate(0.02 390.6 126.45)">MCS 5</text>
<path class="s" stroke="#4DBEEE" d="M347.9 137.5H387.6"/><path class="s" stroke="#4DBEEE" d="M364.4 134.3H370.8V140.7H364.4Z"/><text class="g" x="390.6" y="142.97" transform="rotate(0.02 390.6 142.97)">MCS 6</text>
<path class="s" stroke="#A2142F" d="M347.9 154.5H387.6"/><path class="s" stroke="#A2142F" d="M367.6 148.95L371.75 154.5L367.6 160.05L363.45 154.5Z"/><text class="g" x="390.6" y="159.49" transform="rotate(0.02 390.6 159.49)">MCS 7</text>
<path class="s" stroke="#0072BD" d="M347.9 170.5H387.6"/><path class="s" stroke="#0072BD" d="M362.7 167.67H372.5L367.6 176.16Z"/><text class="g" x="390.6" y="176.01" transform="rotate(0.02 390.6 176.01)">MCS 8</text>
<path class="s" stroke="#D95319" d="M347.9 187.5H387.6"/><path class="s" stroke="#D95319" d="M362.7 190.33H372.5L367.6 181.84Z"/><text class="g" x="390.6" y="192.53" transform="rotate(0.02 390.6 192.53)">MCS 9</text>
<path class="s" stroke="#EDB120" d="M347.9 203.5H387.6"/><path class="s" stroke="#EDB120" d="M364.77 198.6V208.4L373.26 203.5Z"/><text class="g" x="390.6" y="209.05" transform="rotate(0.02 390.6 209.05)">MCS 10</text>
<path class="s" stroke="#7E2F8E" d="M347.9 220.5H387.6"/><path class="s" stroke="#7E2F8E" d="M370.43 215.6V225.4L361.94 220.5Z"/><text class="g" x="390.6" y="225.57" transform="rotate(0.02 390.6 225.57)">MCS 11</text>
<path class="s" stroke="#77AC30" d="M347.9 236.5H387.6"/><path class="s" stroke="#77AC30" d="M367.6 232.25L368.66 235.5L372.07 235.5L369.31 237.5L370.36 240.75L367.6 238.75L364.84 240.75L365.89 237.5L363.13 235.5L366.54 235.5Z"/><text class="g" x="390.6" y="242.09" transform="rotate(0.02 390.6 242.09)">MCS 12</text>
<path class="s" stroke="#4DBEEE" d="M347.9 253.5H387.6"/><path class="s" stroke="#4DBEEE" d="M367.6 249.1L368.87 251.3L371.41 251.3L370.14 253.5L371.41 255.7L368.87 255.7L367.6 257.9L366.33 255.7L363.79 255.7L365.06 253.5L363.79 251.3L366.33 251.3Z"/><text class="g" x="390.6" y="258.61" transform="rotate(0.02 390.6 258.61)">MCS 13</text>
<g transform="rotate(0.02 62.3 22.5)" style="font-size:14.67px"><text x="62.3" y="22.5" textLength="309.9" style="fill:#000;stroke:#000;white-space:pre" xml:space="preserve">NB-IoT BLER, SISO AWGN, 5000 TBs, NSF=1,</text><text x="381.8" y="22.5" style="fill:#000;stroke:#000">NRep=1</text></g>
<text class="t" x="60.5" y="390.6" transform="rotate(0.02 60.5 390.6)" text-anchor="middle">-10</text><text class="t" x="144.5" y="390.6" transform="rotate(0.02 144.5 390.6)" text-anchor="middle">-5</text><text class="t" x="227.8" y="390.6" transform="rotate(0.02 227.8 390.6)" text-anchor="middle">0</text><text class="t" x="312.5" y="390.6" transform="rotate(0.02 312.5 390.6)" text-anchor="middle">5</text><text class="t" x="396.5" y="390.6" transform="rotate(0.02 396.5 390.6)" text-anchor="middle">10</text>
<text class="l" x="212.1" y="410.7" transform="rotate(0.02 212 410.7)" textLength="66.6">SINR [dB]</text>
<text class="l" transform="translate(22 200) rotate(-90)" text-anchor="middle">BLER</text>
<g transform="rotate(0.02 48 35.7)"><text class="t" x="48" y="35.3" text-anchor="end">10</text><text class="e" x="48.2" y="29">0</text></g>
<g transform="rotate(0.02 45 316.7)"><text class="t" x="45" y="316.3" text-anchor="end">10</text><text class="e" x="44.9" y="310.2">-1</text></g>
</svg>
</body></html>
